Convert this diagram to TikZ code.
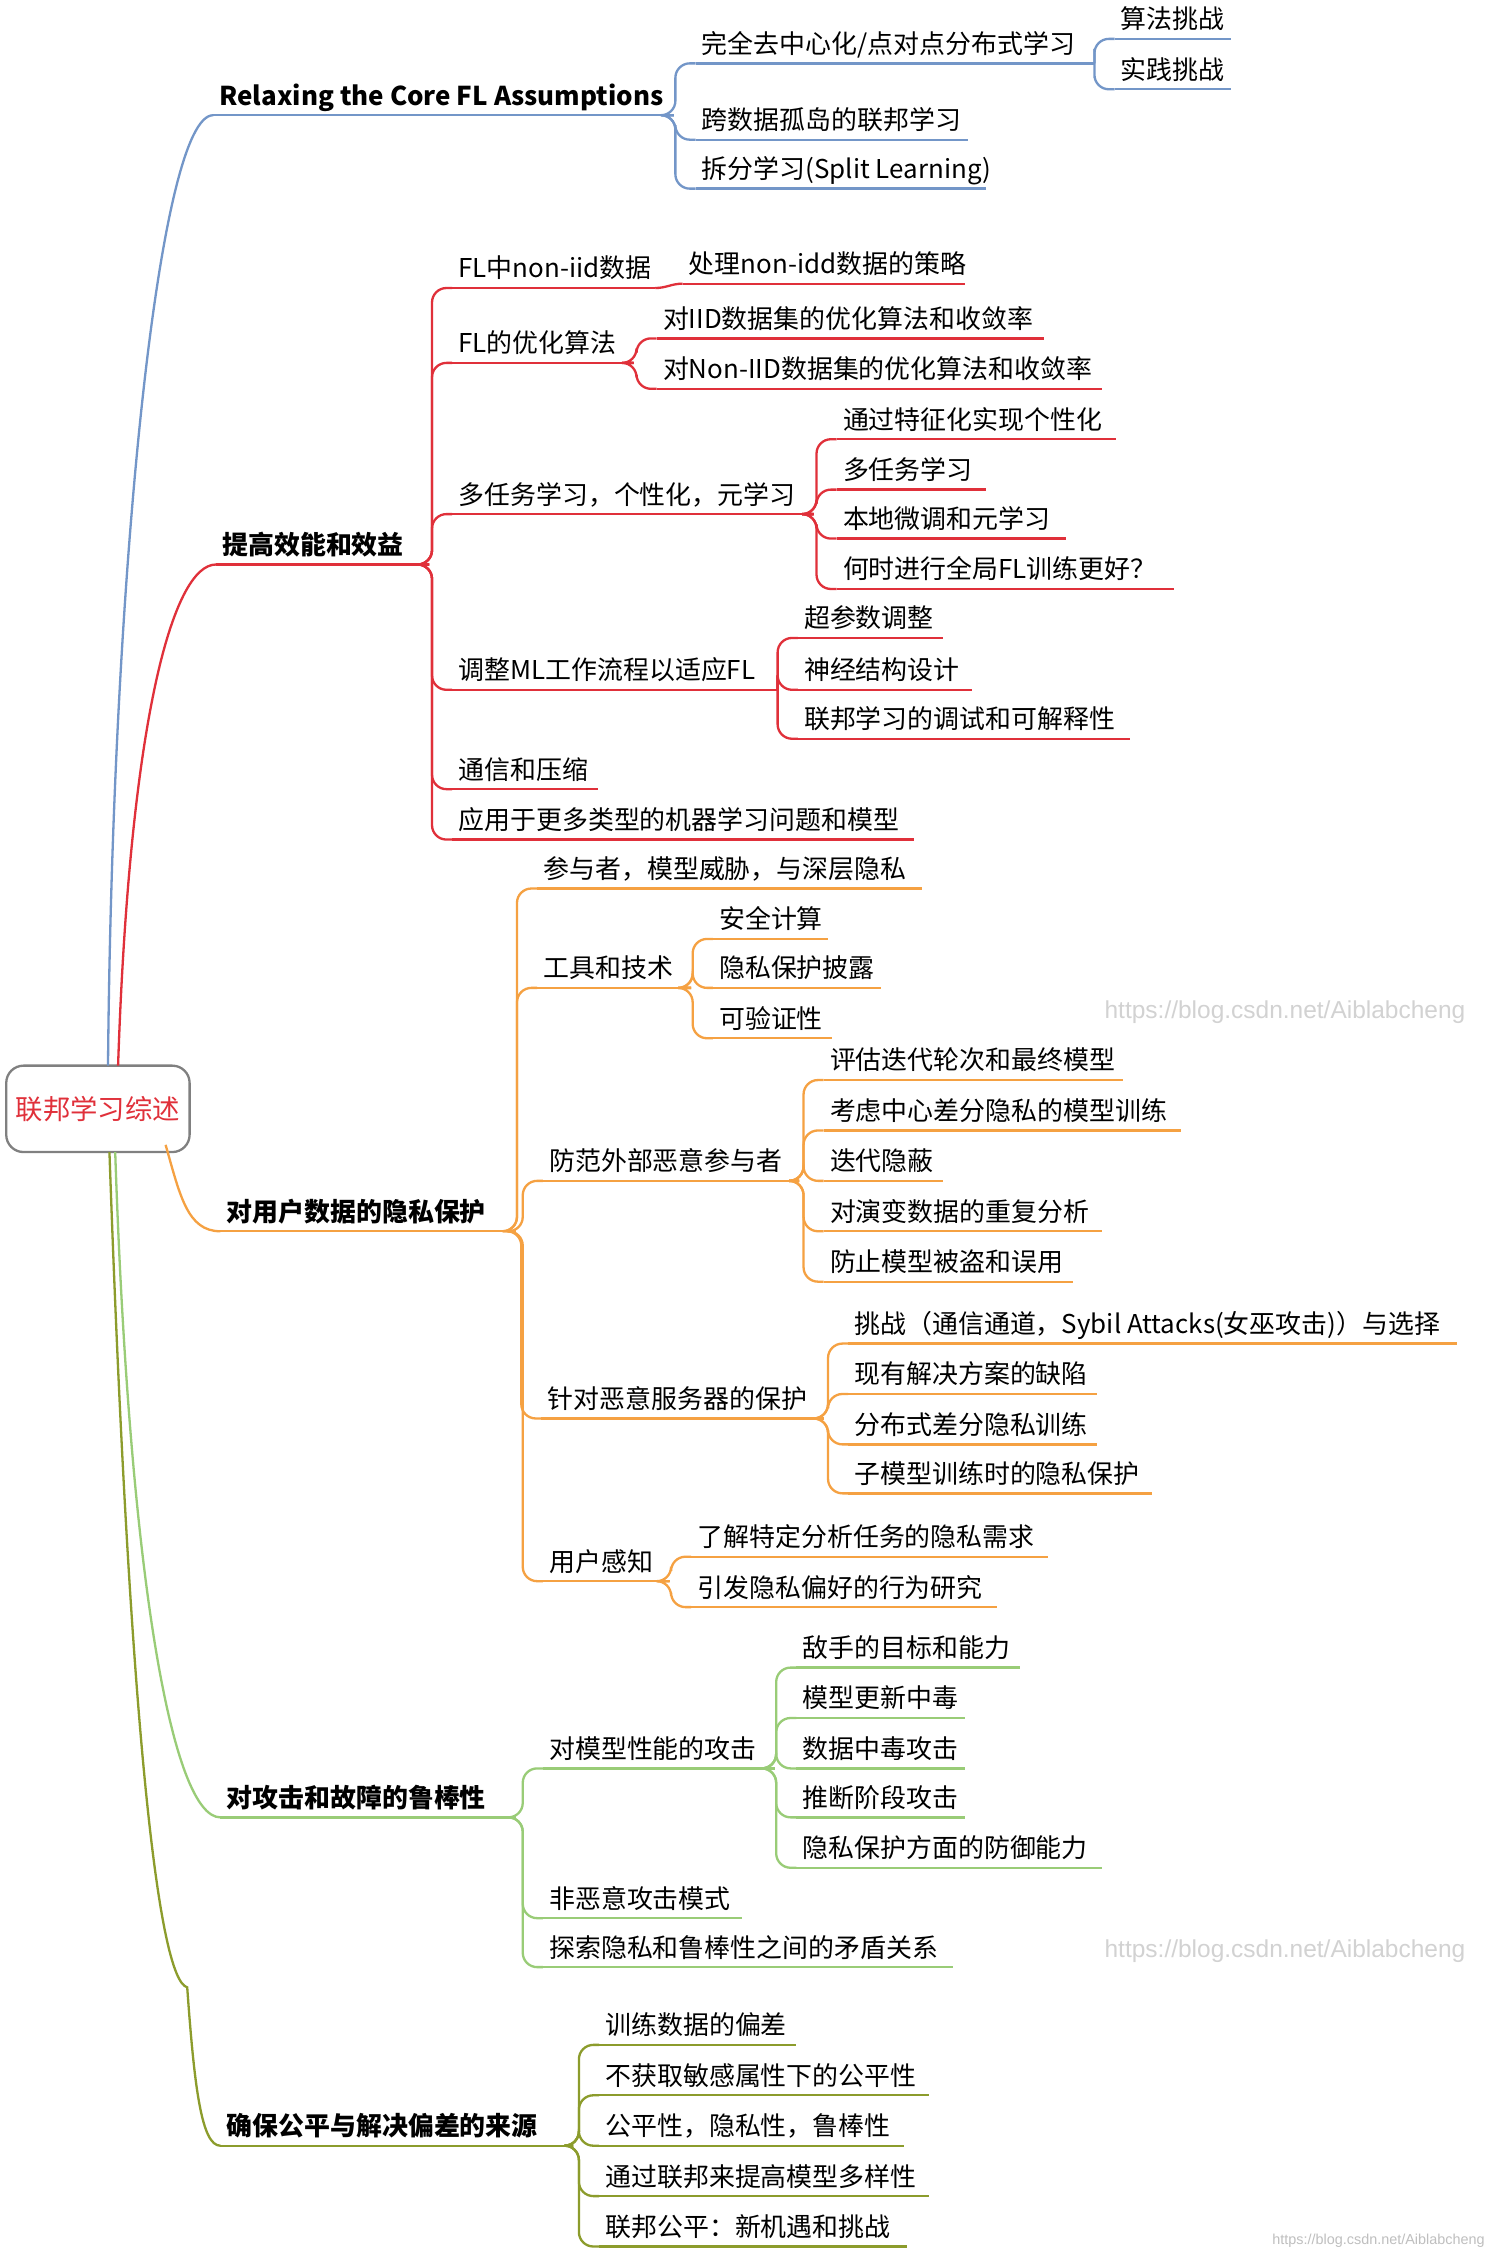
\documentclass[tikz,border=0pt]{standalone}
\usepackage{fontspec}
\setmainfont{Noto Sans CJK SC}
\newfontfamily\wmfont{Liberation Sans}
\usetikzlibrary{calc}
\definecolor{cb}{HTML}{7396C8}
\definecolor{cr}{HTML}{E0303A}
\definecolor{co}{HTML}{F5A142}
\definecolor{cg}{HTML}{99CC77}
\definecolor{cv}{HTML}{8C9C2C}
\newcommand\nd[6]{%
 \node[anchor=base west, inner sep=0, text=black] (#1) at (#2,#4-7) {#6};
 \coordinate (#1L) at (#2-4,#4); \coordinate (#1R) at (#3,#4);
 \draw[#5, line width=0.8pt] (#1L) -- (#1R);}
\newcommand\cn[3]{\draw[#3, line width=0.8pt, rounded corners=5pt] (#1R) -- ($(#1R -| #2L)+(-14,0)$) -- ($(#2L)+(-14,0)$) -- (#2L);}
\begin{document}
\begin{tikzpicture}[x=0.5pt,y=-0.5pt,font=\fontsize{9}{11}\selectfont]
\useasboundingbox (0,0) rectangle (1042,1568);
\fill[white] (0,0) rectangle (1042,1568);
% root
\node[draw=gray, line width=0.8pt, rounded corners=6pt, minimum width=62pt, minimum height=30pt, text=cr, font=\fontsize{9.5}{11}\selectfont] (root) at (68,770) {联邦学习综述};
% main branches
\nd{b}{152}{468}{80}{cb}{\textbf{Relaxing the Core FL Assumptions}}
\nd{r}{154}{298}{392}{cr}{\textbf{提高效能和效益}}
\nd{o}{157}{358}{855}{co}{\textbf{对用户数据的隐私保护}}
\nd{g}{157}{358}{1262}{cg}{\textbf{对攻击和故障的鲁棒性}}
\nd{v}{157}{398}{1490}{cv}{\textbf{确保公平与解决偏差的来源}}
\draw[cb, line width=0.8pt] (75,740) .. controls (78,400) and (110,80) .. (bL);
\draw[cr, line width=0.8pt] (82,740) .. controls (90,500) and (120,392) .. (rL);
\draw[co, line width=0.8pt] (115,795) .. controls (125,830) and (130,855) .. (oL);
\draw[cg, line width=0.8pt] (80,800) .. controls (90,1100) and (120,1262) .. (gL);
\draw[cv, line width=0.8pt] (76,800) .. controls (90,1200) and (110,1375) .. (130,1380) .. controls (135,1450) and (140,1490) .. (vL);
% blue
\nd{b1}{487}{760}{44}{cb}{完全去中心化/点对点分布式学习}
\nd{b11}{778}{855}{27}{cb}{算法挑战}
\nd{b12}{778}{855}{62}{cb}{实践挑战}
\nd{b2}{487}{672}{97}{cb}{跨数据孤岛的联邦学习}
\nd{b3}{487}{685}{131}{cb}{拆分学习(Split Learning)}
\foreach \c in {b1,b2,b3}{\cn{b}{\c}{cb}}
\foreach \c in {b11,b12}{\cn{b1}{\c}{cb}}
% red
\nd{r1}{318}{455}{200}{cr}{FL中non-iid数据}
\nd{r11}{478}{670}{197}{cr}{处理non-idd数据的策略}
\nd{r2}{318}{440}{252}{cr}{FL的优化算法}
\nd{r21}{460}{725}{235}{cr}{对IID数据集的优化算法和收敛率}
\nd{r22}{460}{765}{270}{cr}{对Non-IID数据集的优化算法和收敛率}
\nd{r3}{318}{565}{357}{cr}{多任务学习，个性化，元学习}
\nd{r31}{585}{775}{305}{cr}{通过特征化实现个性化}
\nd{r32}{585}{685}{340}{cr}{多任务学习}
\nd{r33}{585}{740}{374}{cr}{本地微调和元学习}
\nd{r34}{585}{815}{409}{cr}{何时进行全局FL训练更好？}
\nd{r4}{318}{540}{479}{cr}{调整ML工作流程以适应FL}
\nd{r41}{558}{655}{443}{cr}{超参数调整}
\nd{r42}{558}{675}{479}{cr}{神经结构设计}
\nd{r43}{558}{785}{513}{cr}{联邦学习的调试和可解释性}
\nd{r5}{318}{415}{548}{cr}{通信和压缩}
\nd{r6}{318}{635}{583}{cr}{应用于更多类型的机器学习问题和模型}
\foreach \c in {r1,r2,r3,r4,r5,r6}{\cn{r}{\c}{cr}}
\draw[cr, line width=0.8pt] (r1R) .. controls ($(r1R)+(8,0)$) and ($(r11L)+(-8,0)$) .. (r11L);
\foreach \c in {r21,r22}{\cn{r2}{\c}{cr}}
\foreach \c in {r31,r32,r33,r34}{\cn{r3}{\c}{cr}}
\foreach \c in {r41,r42,r43}{\cn{r4}{\c}{cr}}
% orange
\nd{o1}{377}{640}{617}{co}{参与者，模型威胁，与深层隐私}
\nd{o2}{377}{480}{686}{co}{工具和技术}
\nd{o21}{499}{575}{652}{co}{安全计算}
\nd{o22}{499}{612}{686}{co}{隐私保护披露}
\nd{o23}{499}{578}{721}{co}{可验证性}
\nd{o3}{381}{555}{820}{co}{防范外部恶意参与者}
\nd{o31}{576}{780}{750}{co}{评估迭代轮次和最终模型}
\nd{o32}{576}{820}{785}{co}{考虑中心差分隐私的模型训练}
\nd{o33}{576}{655}{820}{co}{迭代隐蔽}
\nd{o34}{576}{765}{855}{co}{对演变数据的重复分析}
\nd{o35}{576}{745}{890}{co}{防止模型被盗和误用}
\nd{o4}{380}{572}{985}{co}{针对恶意服务器的保护}
\nd{o41}{593}{1012}{933}{co}{挑战（通信通道，Sybil Attacks(女巫攻击)）与选择}
\nd{o42}{593}{762}{968}{co}{现有解决方案的缺陷}
\nd{o43}{593}{762}{1003}{co}{分布式差分隐私训练}
\nd{o44}{593}{800}{1037}{co}{子模型训练时的隐私保护}
\nd{o5}{381}{465}{1098}{co}{用户感知}
\nd{o51}{484}{728}{1081}{co}{了解特定分析任务的隐私需求}
\nd{o52}{484}{692}{1116}{co}{引发隐私偏好的行为研究}
\foreach \c in {o1,o2,o3,o4,o5}{\cn{o}{\c}{co}}
\foreach \c in {o21,o22,o23}{\cn{o2}{\c}{co}}
\foreach \c in {o31,o32,o33,o34,o35}{\cn{o3}{\c}{co}}
\foreach \c in {o41,o42,o43,o44}{\cn{o4}{\c}{co}}
\foreach \c in {o51,o52}{\cn{o5}{\c}{co}}
% green
\nd{g1}{381}{538}{1228}{cg}{对模型性能的攻击}
\nd{g11}{557}{708}{1158}{cg}{敌手的目标和能力}
\nd{g12}{557}{670}{1193}{cg}{模型更新中毒}
\nd{g13}{557}{670}{1228}{cg}{数据中毒攻击}
\nd{g14}{557}{670}{1262}{cg}{推断阶段攻击}
\nd{g15}{557}{765}{1297}{cg}{隐私保护方面的防御能力}
\nd{g2}{381}{515}{1332}{cg}{非恶意攻击模式}
\nd{g3}{381}{662}{1366}{cg}{探索隐私和鲁棒性之间的矛盾关系}
\foreach \c in {g1,g2,g3}{\cn{g}{\c}{cg}}
\foreach \c in {g11,g12,g13,g14,g15}{\cn{g1}{\c}{cg}}
% olive
\nd{v1}{420}{553}{1420}{cv}{训练数据的偏差}
\nd{v2}{420}{645}{1455}{cv}{不获取敏感属性下的公平性}
\nd{v3}{420}{628}{1490}{cv}{公平性，隐私性，鲁棒性}
\nd{v4}{420}{645}{1525}{cv}{通过联邦来提高模型多样性}
\nd{v5}{420}{630}{1560}{cv}{联邦公平：新机遇和挑战}
\foreach \c in {v1,v2,v3,v4,v5}{\cn{v}{\c}{cv}}
% watermarks
\node[text=gray!35, anchor=west, font=\wmfont\fontsize{8.5}{10}\selectfont] (w1) at (760,703) {https://blog.csdn.net/Aiblabcheng};
\node[text=gray!35, anchor=west, font=\wmfont\fontsize{8.5}{10}\selectfont] (w2) at (760,1355) {https://blog.csdn.net/Aiblabcheng};
\node[text=gray!50, anchor=east, font=\wmfont\fontsize{5}{6}\selectfont] (w3) at (1038,1556) {https://blog.csdn.net/Aiblabcheng};
\end{tikzpicture}
\end{document}
